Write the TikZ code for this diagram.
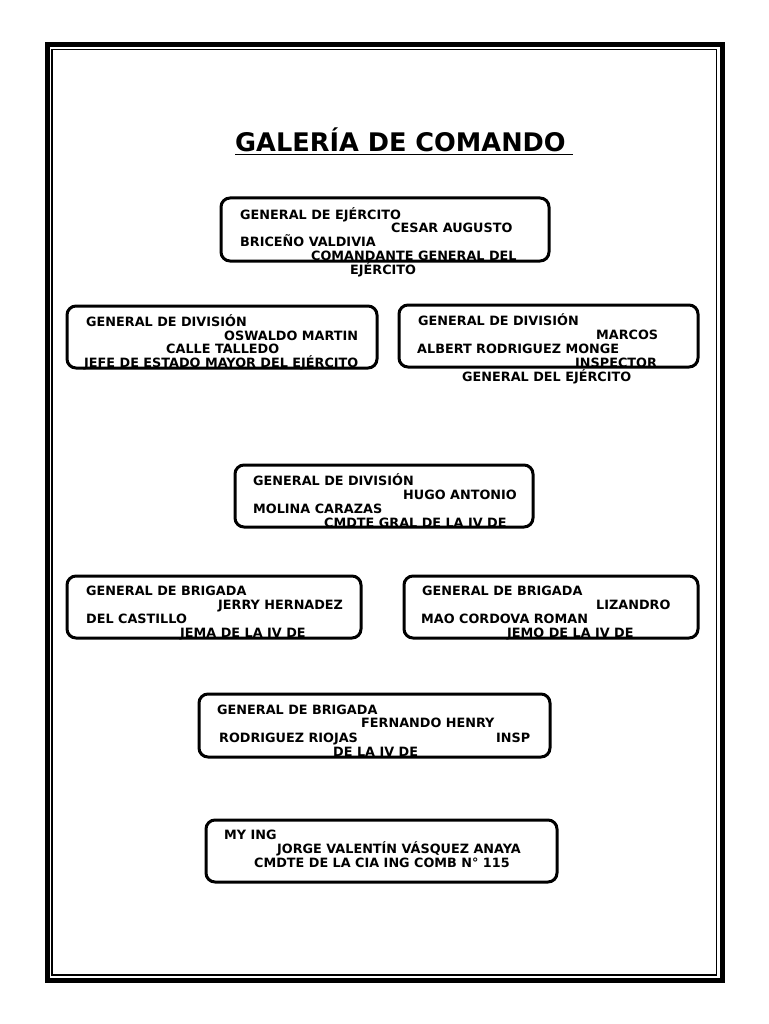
\documentclass[tikz,border=0pt]{standalone}
\usepackage{fontspec}
\setmainfont{DejaVu Sans}
\usepackage{tikz}

\begin{document}
\begin{tikzpicture}[x=1pt, y=-1pt,
  panel/.style={draw, line width=3pt, rounded corners=9pt, inner sep=0pt},
  txt/.style={anchor=base west, inner sep=0pt, font=\bfseries\fontsize{12.8}{14}\selectfont}]
\useasboundingbox (0,0) rectangle (768,1024);

% Frame
\draw[line width=5pt] (47,44.5) rectangle (722,980.5);
\draw[line width=1.3pt] (52,49.5) rectangle (716.5,975);

% Title
\node[anchor=base west, inner sep=0pt, font=\bfseries\fontsize{25.6}{30}\selectfont] (title) at (235,152) {GALERÍA DE COMANDO};
\draw[line width=1.8pt] ([yshift=-2.5pt]title.base west) -- ++(338,0);

% Boxes
\node[panel, minimum width=328pt, minimum height=63pt] (cge) at (385,229.5) {};
\node[panel, minimum width=310pt, minimum height=62pt] (jem) at (222,337) {};
\node[panel, minimum width=299pt, minimum height=62pt] (ige) at (548.5,336) {};
\node[panel, minimum width=298pt, minimum height=62pt] (cgd) at (384,496) {};
\node[panel, minimum width=294pt, minimum height=62pt] (jema) at (214,607) {};
\node[panel, minimum width=294pt, minimum height=62pt] (jemo) at (551,607) {};
\node[panel, minimum width=351pt, minimum height=63pt] (insp) at (374.5,725.5) {};
\node[panel, minimum width=351pt, minimum height=62pt] (cia) at (381.5,851) {};

% Labels
\node[txt] (cge1) at (240,219.5) {GENERAL DE EJÉRCITO};
\node[txt] (cge2) at (391,232.5) {CESAR AUGUSTO};
\node[txt] (cge3) at (240,246.5) {BRICEÑO VALDIVIA};
\node[txt] (cge4) at (311,260.5) {COMANDANTE GENERAL DEL};
\node[txt] (cge5) at (350,274.5) {EJÉRCITO};

\node[txt] (jem1) at (86,326.5) {GENERAL DE DIVISIÓN};
\node[txt] (jem2) at (224,340.5) {OSWALDO MARTIN};
\node[txt] (jem3) at (166,353.5) {CALLE TALLEDO};
\node[txt] (jem4) at (84,367.5) {JEFE DE ESTADO MAYOR DEL EJÉRCITO};

\node[txt] (ige1) at (418,325.5) {GENERAL DE DIVISIÓN};
\node[txt] (ige2) at (596,339.5) {MARCOS};
\node[txt] (ige3) at (417,353.5) {ALBERT RODRIGUEZ MONGE};
\node[txt] (ige4) at (575,367.5) {INSPECTOR};
\node[txt] (ige5) at (462,381.5) {GENERAL DEL EJÉRCITO};

\node[txt] (cgd1) at (253,485.5) {GENERAL DE DIVISIÓN};
\node[txt] (cgd2) at (403,499.5) {HUGO ANTONIO};
\node[txt] (cgd3) at (253,513.5) {MOLINA CARAZAS};
\node[txt] (cgd4) at (324,527.5) {CMDTE GRAL DE LA IV DE};

\node[txt] (jema1) at (86,595.5) {GENERAL DE BRIGADA};
\node[txt] (jema2) at (218,609.5) {JERRY HERNADEZ};
\node[txt] (jema3) at (86,623.5) {DEL CASTILLO};
\node[txt] (jema4) at (180,637.5) {JEMA DE LA IV DE};

\node[txt] (jemo1) at (422,595.5) {GENERAL DE BRIGADA};
\node[txt] (jemo2) at (596,609.5) {LIZANDRO};
\node[txt] (jemo3) at (421,623.5) {MAO CORDOVA ROMAN};
\node[txt] (jemo4) at (507,637.5) {JEMO DE LA IV DE};

\node[txt] (insp1) at (217,714.5) {GENERAL DE BRIGADA};
\node[txt] (insp2) at (361,727.5) {FERNANDO HENRY};
\node[txt] (insp3) at (219,742.5) {RODRIGUEZ RIOJAS};
\node[txt] (insp4) at (496,742.5) {INSP};
\node[txt] (insp5) at (333,756.5) {DE LA IV DE};

\node[txt] (cia1) at (224,839.5) {MY ING};
\node[txt] (cia2) at (277,853.5) {JORGE VALENTÍN VÁSQUEZ ANAYA};
\node[txt] (cia3) at (254,867.5) {CMDTE DE LA CIA ING COMB N° 115};
\end{tikzpicture}
\end{document}
